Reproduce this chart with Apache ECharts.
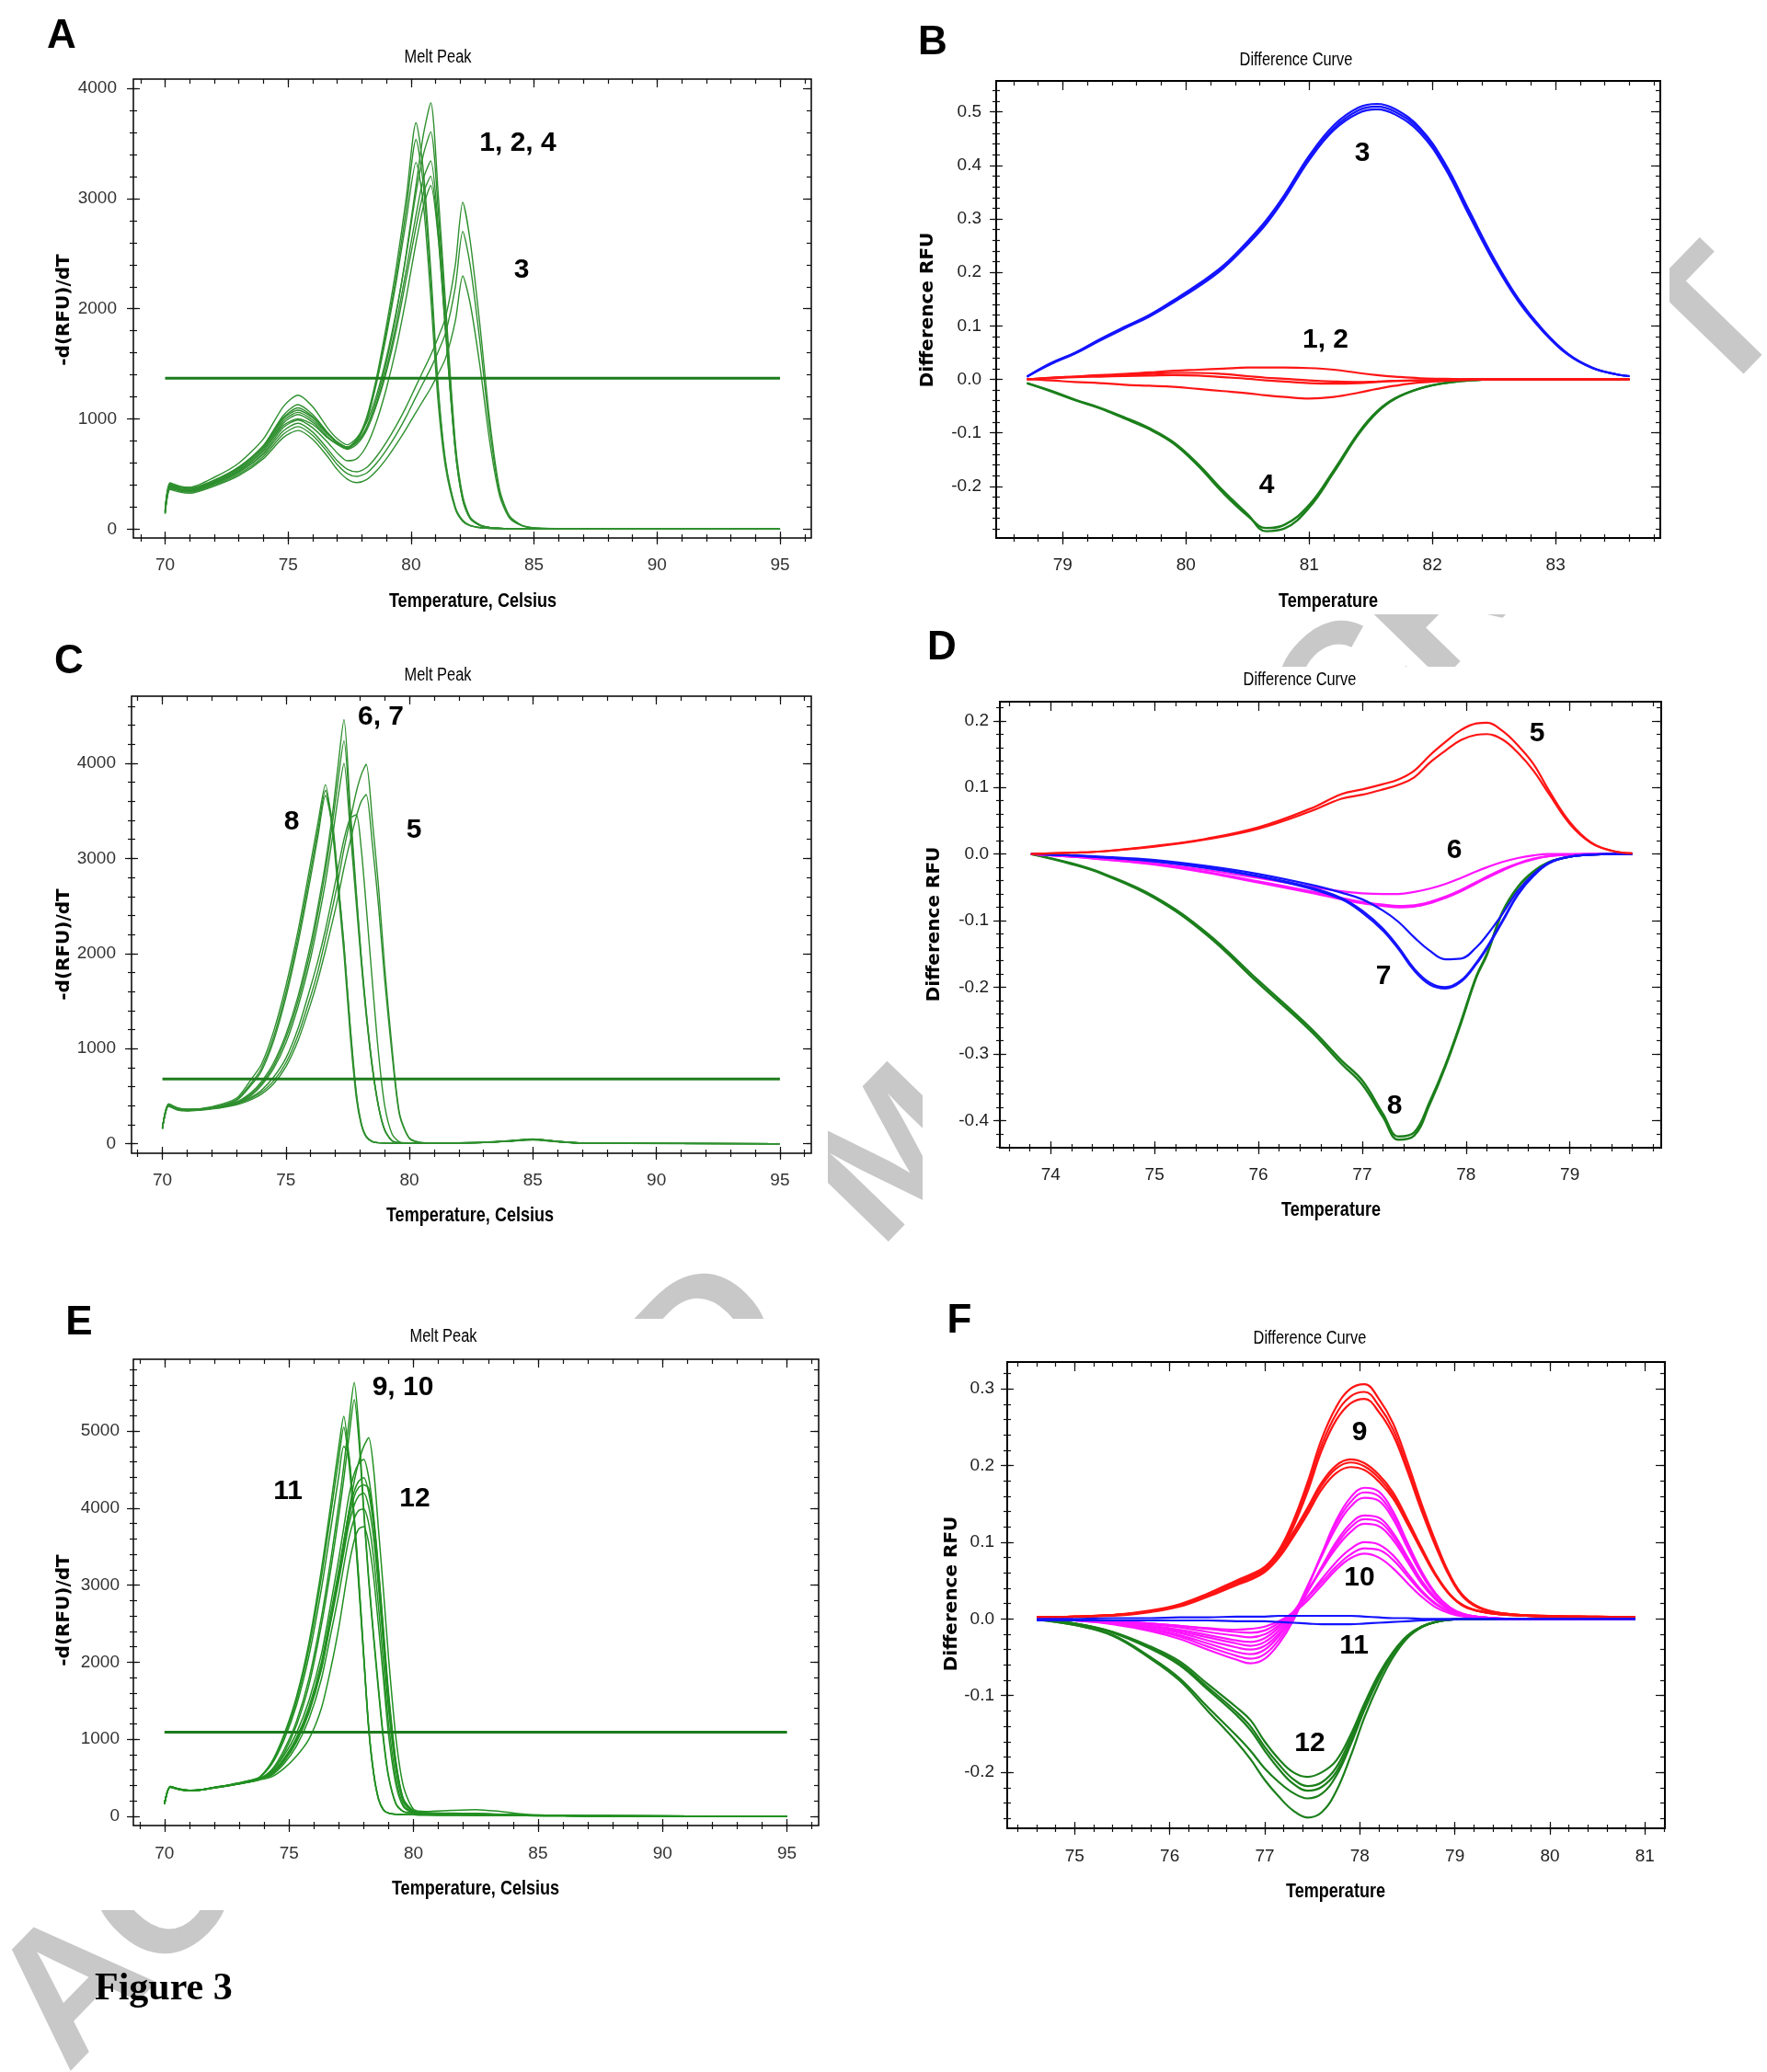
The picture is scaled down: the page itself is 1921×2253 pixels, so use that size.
<!DOCTYPE html>
<html>
<head>
<meta charset="utf-8">
<title>Figure 3</title>
<script src="https://cdn.jsdelivr.net/npm/echarts@6.0.0/dist/echarts.min.js"></script>
<style>
  html, body { margin: 0; padding: 0; background: #fff; }
  #fig { width: 1921px; height: 2253px; }
</style>
</head>
<body>
<div id="fig"></div>
<script>
// ---------- A : melt peak ----------
const tempA = [70.0, 70.2, 70.6, 71.0, 72.0, 73.0, 74.0, 74.8, 75.4, 76.0, 76.6, 77.0, 77.4, 77.8, 78.2, 78.6, 79.0, 79.4, 79.8, 80.2, 80.5, 80.8, 81.1, 81.4, 81.8, 82.1, 82.4, 82.8, 83.2, 83.6, 84.0, 84.5, 85.0, 86.0, 88.0, 95.0];
const peakA1 = [160, 400, 375, 365, 440, 560, 760, 1030, 1130, 1040, 880, 790, 745, 820, 1020, 1380, 1850, 2380, 3000, 3689, 3250, 2350, 1300, 620, 200, 80, 35, 15, 8, 5, 3, 2, 2, 1, 0, 0];
const peakA2 = [170, 390, 360, 355, 430, 545, 730, 980, 1060, 990, 860, 785, 740, 790, 930, 1180, 1520, 1960, 2500, 3120, 3580, 3870, 3050, 2050, 780, 300, 110, 40, 15, 8, 5, 3, 2, 1, 0, 0];
const peakA3 = [150, 410, 380, 370, 445, 565, 750, 1010, 1100, 1020, 870, 780, 735, 810, 1000, 1350, 1800, 2300, 2900, 3536, 3120, 2250, 1250, 600, 190, 75, 30, 12, 6, 4, 3, 2, 1, 1, 0, 0];
const peakA4 = [180, 420, 390, 380, 470, 600, 820, 1110, 1215, 1110, 920, 820, 765, 830, 970, 1220, 1560, 1980, 2480, 3050, 3400, 3606, 2900, 1950, 750, 280, 100, 35, 14, 8, 5, 3, 2, 1, 0, 0];
const peakA5 = [150, 380, 355, 350, 420, 530, 710, 960, 1040, 970, 840, 770, 730, 800, 990, 1330, 1760, 2250, 2800, 3328, 2950, 2100, 1150, 560, 180, 70, 30, 12, 6, 4, 3, 2, 1, 1, 0, 0];
const peakA6 = [165, 395, 365, 355, 425, 535, 715, 940, 1000, 950, 830, 770, 725, 770, 900, 1140, 1460, 1870, 2350, 2850, 3180, 3342, 2750, 1850, 720, 270, 100, 35, 14, 8, 5, 3, 2, 1, 0, 0];
const peakA7 = [155, 405, 375, 365, 440, 555, 745, 1000, 1080, 1010, 870, 790, 745, 790, 910, 1130, 1430, 1810, 2270, 2740, 3050, 3203, 2680, 1800, 700, 260, 95, 33, 13, 7, 5, 3, 2, 1, 0, 0];
const peakA8 = [160, 385, 355, 345, 415, 520, 690, 920, 990, 920, 790, 690, 620, 640, 760, 980, 1280, 1650, 2100, 2600, 2930, 3119, 2650, 1800, 720, 270, 100, 35, 14, 8, 5, 3, 2, 1, 0, 0];
const peakA9 = [150, 380, 350, 340, 410, 515, 680, 890, 960, 880, 730, 620, 545, 520, 560, 660, 790, 940, 1110, 1300, 1440, 1580, 1740, 1920, 2400, 2966, 2620, 1850, 980, 360, 120, 35, 12, 5, 2, 0];
const peakA10 = [140, 370, 345, 335, 400, 500, 660, 860, 930, 850, 700, 585, 505, 478, 510, 600, 720, 860, 1020, 1200, 1330, 1460, 1610, 1780, 2200, 2702, 2400, 1700, 900, 330, 110, 32, 11, 5, 2, 0];
const peakA11 = [140, 360, 335, 325, 390, 485, 640, 830, 895, 815, 660, 540, 455, 422, 450, 530, 640, 770, 910, 1060, 1170, 1280, 1410, 1550, 1890, 2299, 2050, 1480, 790, 300, 100, 30, 10, 4, 2, 0];
const thresholdA = 1370;

// ---------- C : melt peak ----------
const tempC = [70.0, 70.25, 70.6, 71.0, 72.0, 73.0, 73.6, 74.0, 74.5, 75.0, 75.5, 76.0, 76.3, 76.6, 76.9, 77.1, 77.35, 77.6, 77.85, 78.05, 78.25, 78.5, 78.75, 79.0, 79.3, 79.6, 80.0, 80.5, 81.5, 83.0, 84.0, 85.0, 86.0, 87.0, 95.0];
const peakC8a = [160, 410, 370, 360, 390, 480, 680, 830, 1180, 1660, 2250, 2950, 3380, 3776, 3250, 2700, 2000, 1150, 480, 200, 70, 20, 10, 6, 5, 5, 5, 5, 8, 15, 30, 45, 25, 8, 0];
const peakC8b = [170, 400, 365, 355, 380, 465, 640, 790, 1120, 1590, 2180, 2870, 3300, 3715, 3350, 2800, 2100, 1250, 540, 220, 80, 25, 10, 6, 5, 5, 5, 5, 8, 15, 28, 42, 22, 7, 0];
const peakC8c = [155, 395, 360, 350, 375, 455, 620, 760, 1080, 1540, 2120, 2800, 3240, 3662, 3300, 2780, 2080, 1230, 520, 210, 75, 22, 10, 6, 5, 5, 5, 5, 8, 14, 26, 40, 20, 6, 0];
const peakC67a = [170, 420, 380, 365, 380, 440, 540, 650, 850, 1150, 1560, 2100, 2500, 2950, 3500, 3950, 4459, 3550, 2650, 1970, 1400, 820, 400, 150, 30, 10, 5, 5, 8, 15, 30, 50, 25, 8, 0];
const peakC67b = [165, 415, 375, 360, 375, 430, 525, 630, 820, 1110, 1510, 2030, 2430, 2870, 3400, 3800, 4238, 3450, 2600, 1950, 1380, 800, 390, 145, 30, 10, 5, 5, 8, 14, 28, 48, 24, 8, 0];
const peakC67c = [160, 405, 370, 355, 370, 425, 510, 610, 790, 1060, 1450, 1950, 2330, 2750, 3250, 3620, 4000, 3300, 2520, 1900, 1350, 790, 385, 140, 30, 10, 5, 5, 8, 14, 27, 46, 23, 7, 0];
const peakC5a = [165, 400, 360, 350, 370, 420, 480, 540, 660, 850, 1150, 1550, 1820, 2150, 2500, 2750, 3100, 3400, 3700, 3880, 3991, 3400, 2700, 1850, 1000, 320, 60, 12, 6, 12, 28, 48, 24, 8, 0];
const peakC5b = [160, 395, 355, 345, 365, 410, 465, 520, 630, 810, 1090, 1470, 1730, 2030, 2350, 2580, 2900, 3180, 3440, 3600, 3672, 3150, 2500, 1720, 930, 300, 55, 12, 6, 12, 27, 46, 23, 7, 0];
const peakC5c = [160, 400, 360, 350, 370, 425, 490, 560, 700, 900, 1220, 1650, 1930, 2250, 2620, 2880, 3200, 3420, 3459, 3100, 2500, 1700, 950, 400, 100, 20, 8, 6, 6, 12, 27, 45, 22, 7, 0];
const thresholdC = 681;

// ---------- E : melt peak ----------
const tempE = [70.0, 70.23, 70.6, 71.0, 71.4, 72.0, 72.6, 73.2, 73.8, 74.3, 74.8, 75.3, 75.8, 76.3, 76.7, 77.0, 77.2, 77.4, 77.62, 77.8, 78.0, 78.2, 78.4, 78.6, 78.8, 79.0, 79.3, 79.6, 80.0, 80.5, 81.5, 82.5, 83.5, 84.5, 86.0, 88.0, 95.0];
const peakE1 = [157, 383, 350, 335, 340, 370, 400, 435, 480, 600, 860, 1230, 1780, 2580, 3380, 4050, 4550, 5100, 5630, 5050, 4000, 3100, 2350, 1650, 1000, 520, 160, 60, 40, 30, 25, 20, 15, 10, 5, 2, 0];
const peakE2 = [160, 375, 345, 330, 338, 365, 395, 430, 470, 580, 820, 1180, 1700, 2480, 3250, 3900, 4380, 4900, 5411, 4900, 3950, 3050, 2300, 1600, 960, 500, 150, 55, 38, 28, 24, 20, 14, 9, 5, 2, 0];
const peakE3 = [155, 380, 348, 332, 338, 372, 405, 445, 500, 700, 1060, 1550, 2250, 3200, 4100, 4800, 5192, 4700, 3900, 3100, 2100, 1150, 560, 220, 80, 40, 25, 20, 18, 15, 12, 10, 8, 5, 3, 1, 0];
const peakE4 = [158, 385, 352, 335, 340, 375, 408, 448, 505, 690, 1030, 1500, 2180, 3100, 3980, 4650, 5053, 4600, 3800, 3000, 2050, 1120, 540, 210, 75, 38, 24, 20, 17, 14, 12, 10, 8, 5, 3, 1, 0];
const peakE5 = [160, 378, 345, 330, 336, 368, 400, 440, 495, 670, 990, 1440, 2080, 2950, 3780, 4420, 4800, 4700, 3850, 3050, 2100, 1160, 560, 220, 80, 40, 25, 20, 17, 14, 12, 10, 8, 5, 3, 1, 0];
const peakE6 = [158, 380, 350, 333, 340, 372, 402, 438, 485, 560, 740, 1000, 1380, 1950, 2600, 3150, 3550, 3950, 4350, 4600, 4800, 4914, 4500, 3700, 2900, 2050, 1000, 380, 90, 60, 75, 85, 60, 25, 8, 2, 0];
const peakE7 = [160, 385, 352, 336, 342, 374, 404, 440, 490, 580, 790, 1080, 1500, 2100, 2800, 3350, 3750, 4150, 4450, 4580, 4635, 4400, 3900, 3200, 2400, 1600, 700, 220, 70, 45, 40, 35, 25, 15, 6, 2, 0];
const peakE8 = [156, 378, 348, 332, 338, 370, 400, 436, 482, 560, 750, 1020, 1420, 2000, 2680, 3200, 3580, 3950, 4220, 4350, 4396, 4200, 3750, 3050, 2250, 1450, 620, 190, 60, 40, 35, 30, 22, 14, 6, 2, 0];
const peakE9 = [155, 376, 346, 330, 336, 368, 398, 432, 478, 545, 710, 960, 1340, 1900, 2560, 3060, 3420, 3780, 4040, 4160, 4196, 4020, 3600, 2950, 2180, 1400, 600, 180, 55, 38, 32, 28, 20, 12, 5, 2, 0];
const peakE10 = [158, 380, 350, 334, 340, 370, 400, 434, 476, 530, 680, 910, 1260, 1780, 2400, 2880, 3250, 3600, 3860, 3970, 3990, 3800, 3350, 2700, 1950, 1200, 480, 140, 45, 32, 28, 25, 18, 11, 5, 2, 0];
const peakE11 = [157, 378, 348, 332, 338, 368, 398, 430, 470, 510, 620, 780, 1000, 1400, 1950, 2450, 2850, 3250, 3580, 3730, 3759, 3550, 3100, 2450, 1750, 1050, 400, 120, 40, 30, 26, 22, 16, 10, 5, 2, 0];
const peakE12 = [159, 382, 351, 334, 341, 372, 402, 436, 480, 550, 720, 980, 1360, 1920, 2580, 3100, 3480, 3860, 4150, 4270, 4300, 4260, 3850, 3150, 2350, 1550, 680, 210, 65, 42, 36, 30, 22, 13, 6, 2, 0];
const thresholdE = 1091;

// ---------- B : difference curve ----------
const tempB = [78.71, 78.9, 79.1, 79.3, 79.5, 79.7, 79.9, 80.1, 80.3, 80.5, 80.65, 80.8, 81.0, 81.2, 81.4, 81.55, 81.7, 81.9, 82.1, 82.3, 82.5, 82.7, 82.9, 83.1, 83.3, 83.5, 83.6];
const diffB3a = [0.005, 0.03, 0.05, 0.075, 0.098, 0.12, 0.148, 0.178, 0.212, 0.258, 0.297, 0.345, 0.418, 0.475, 0.508, 0.515, 0.505, 0.47, 0.405, 0.315, 0.226, 0.15, 0.092, 0.048, 0.022, 0.009, 0.006];
const diffB3b = [0.005, 0.029, 0.049, 0.074, 0.097, 0.119, 0.146, 0.176, 0.21, 0.255, 0.294, 0.342, 0.414, 0.47, 0.503, 0.51, 0.5, 0.466, 0.4, 0.31, 0.222, 0.147, 0.09, 0.047, 0.021, 0.009, 0.006];
const diffB3c = [0.005, 0.028, 0.048, 0.072, 0.095, 0.117, 0.144, 0.173, 0.207, 0.252, 0.29, 0.338, 0.41, 0.466, 0.498, 0.505, 0.495, 0.461, 0.396, 0.306, 0.219, 0.145, 0.089, 0.046, 0.021, 0.009, 0.006];
const diffB12a = [0, 0.003, 0.005, 0.008, 0.01, 0.013, 0.016, 0.018, 0.02, 0.022, 0.022, 0.022, 0.021, 0.018, 0.012, 0.008, 0.005, 0.002, 0.001, 0, 0, 0, 0, 0, 0, 0, 0];
const diffB12b = [0, 0.003, 0.005, 0.007, 0.008, 0.01, 0.012, 0.012, 0.01, 0.006, 0.003, 0.001, -0.002, -0.004, -0.005, -0.004, -0.003, -0.002, -0.001, 0, 0, 0, 0, 0, 0, 0, 0];
const diffB12c = [0, 0.002, 0.004, 0.005, 0.006, 0.007, 0.008, 0.007, 0.004, 0.001, -0.002, -0.004, -0.007, -0.008, -0.007, -0.005, -0.003, -0.002, -0.001, 0, 0, 0, 0, 0, 0, 0, 0];
const diffB12d = [0, -0.002, -0.005, -0.007, -0.01, -0.012, -0.014, -0.018, -0.022, -0.026, -0.03, -0.033, -0.036, -0.033, -0.025, -0.018, -0.012, -0.006, -0.003, -0.001, 0, 0, 0, 0, 0, 0, 0];
const diffB4a = [-0.007, -0.022, -0.039, -0.054, -0.073, -0.093, -0.12, -0.162, -0.212, -0.255, -0.278, -0.272, -0.235, -0.17, -0.1, -0.06, -0.035, -0.017, -0.007, -0.002, 0, 0, 0, 0, 0, 0, 0];
const diffB4b = [-0.007, -0.021, -0.038, -0.053, -0.071, -0.091, -0.118, -0.159, -0.208, -0.252, -0.284, -0.279, -0.24, -0.174, -0.103, -0.062, -0.036, -0.017, -0.007, -0.002, 0, 0, 0, 0, 0, 0, 0];

// ---------- D : difference curve ----------
const tempD = [73.81, 74.2, 74.5, 75.0, 75.5, 76.0, 76.5, 76.8, 77.0, 77.2, 77.35, 77.5, 77.65, 77.8, 77.95, 78.1, 78.2, 78.35, 78.5, 78.65, 78.8, 79.0, 79.2, 79.4, 79.6];
const diffD5a = [0, 0.002, 0.004, 0.012, 0.023, 0.04, 0.068, 0.09, 0.097, 0.105, 0.112, 0.125, 0.148, 0.168, 0.186, 0.196, 0.197, 0.185, 0.163, 0.135, 0.095, 0.048, 0.018, 0.005, 0.001];
const diffD5b = [0, 0.002, 0.004, 0.011, 0.022, 0.038, 0.064, 0.083, 0.089, 0.097, 0.104, 0.115, 0.137, 0.155, 0.171, 0.179, 0.18, 0.172, 0.152, 0.125, 0.09, 0.045, 0.017, 0.005, 0.001];
const diffD6a = [0, -0.004, -0.007, -0.014, -0.024, -0.036, -0.049, -0.056, -0.059, -0.06, -0.06, -0.057, -0.052, -0.045, -0.036, -0.026, -0.02, -0.012, -0.006, -0.002, 0, 0, 0, 0, 0];
const diffD6b = [0, -0.004, -0.008, -0.016, -0.028, -0.043, -0.058, -0.068, -0.074, -0.078, -0.08, -0.079, -0.074, -0.066, -0.056, -0.044, -0.036, -0.025, -0.015, -0.008, -0.003, -0.001, 0, 0, 0];
const diffD6c = [0, -0.004, -0.008, -0.015, -0.027, -0.041, -0.056, -0.066, -0.072, -0.076, -0.078, -0.077, -0.072, -0.064, -0.054, -0.042, -0.034, -0.023, -0.014, -0.007, -0.003, -0.001, 0, 0, 0];
const diffD7a = [0, -0.002, -0.004, -0.009, -0.018, -0.03, -0.046, -0.058, -0.068, -0.085, -0.102, -0.125, -0.145, -0.158, -0.157, -0.14, -0.122, -0.09, -0.055, -0.03, -0.013, -0.004, -0.001, 0, 0];
const diffD7b = [0, -0.002, -0.005, -0.011, -0.02, -0.033, -0.05, -0.066, -0.085, -0.112, -0.14, -0.172, -0.193, -0.2, -0.19, -0.163, -0.14, -0.1, -0.06, -0.032, -0.013, -0.004, -0.001, 0, 0];
const diffD7c = [0, -0.002, -0.005, -0.011, -0.021, -0.034, -0.052, -0.068, -0.088, -0.115, -0.143, -0.175, -0.196, -0.202, -0.192, -0.165, -0.142, -0.102, -0.061, -0.033, -0.014, -0.004, -0.001, 0, 0];
const diffD8a = [0, -0.015, -0.03, -0.066, -0.121, -0.194, -0.265, -0.315, -0.346, -0.395, -0.429, -0.423, -0.376, -0.32, -0.255, -0.185, -0.152, -0.088, -0.05, -0.027, -0.012, -0.004, -0.001, 0, 0];
const diffD8b = [0, -0.014, -0.029, -0.064, -0.118, -0.19, -0.261, -0.31, -0.34, -0.39, -0.424, -0.418, -0.372, -0.317, -0.252, -0.183, -0.15, -0.087, -0.049, -0.026, -0.012, -0.004, -0.001, 0, 0];

// ---------- F : difference curve ----------
const tempF = [74.6, 75.0, 75.4, 75.8, 76.1, 76.4, 76.7, 76.85, 77.0, 77.15, 77.3, 77.45, 77.6, 77.75, 77.9, 78.05, 78.2, 78.35, 78.5, 78.65, 78.8, 78.95, 79.1, 79.3, 79.6, 80.0, 80.5, 80.9];
const diffF9a = [0.002, 0.003, 0.005, 0.011, 0.019, 0.033, 0.05, 0.058, 0.068, 0.09, 0.128, 0.178, 0.235, 0.276, 0.3, 0.306, 0.287, 0.255, 0.205, 0.15, 0.1, 0.057, 0.029, 0.013, 0.006, 0.004, 0.003, 0.002];
const diffF9b = [0.002, 0.003, 0.005, 0.01, 0.018, 0.031, 0.048, 0.056, 0.066, 0.087, 0.124, 0.172, 0.227, 0.267, 0.29, 0.296, 0.278, 0.247, 0.198, 0.145, 0.097, 0.055, 0.028, 0.013, 0.006, 0.004, 0.003, 0.002];
const diffF9c = [0.002, 0.003, 0.005, 0.01, 0.018, 0.03, 0.046, 0.054, 0.064, 0.084, 0.12, 0.166, 0.22, 0.259, 0.281, 0.287, 0.27, 0.24, 0.193, 0.141, 0.094, 0.054, 0.027, 0.012, 0.006, 0.004, 0.003, 0.002];
const diffF9d = [0.002, 0.003, 0.005, 0.01, 0.018, 0.031, 0.047, 0.055, 0.065, 0.085, 0.113, 0.145, 0.178, 0.2, 0.208, 0.203, 0.188, 0.165, 0.13, 0.093, 0.058, 0.032, 0.017, 0.009, 0.005, 0.003, 0.002, 0.002];
const diffF9e = [0.002, 0.003, 0.005, 0.01, 0.017, 0.03, 0.045, 0.053, 0.063, 0.083, 0.11, 0.141, 0.174, 0.196, 0.204, 0.199, 0.184, 0.161, 0.127, 0.091, 0.057, 0.031, 0.017, 0.009, 0.005, 0.003, 0.002, 0.002];
const diffF9f = [0.002, 0.003, 0.004, 0.009, 0.016, 0.029, 0.044, 0.051, 0.061, 0.08, 0.107, 0.137, 0.169, 0.19, 0.198, 0.194, 0.179, 0.157, 0.124, 0.089, 0.056, 0.031, 0.016, 0.009, 0.005, 0.003, 0.002, 0.002];
const diffF10a = [0, -0.002, -0.007, -0.016, -0.026, -0.04, -0.053, -0.058, -0.052, -0.032, -0.002, 0.04, 0.085, 0.128, 0.158, 0.171, 0.166, 0.14, 0.1, 0.062, 0.033, 0.015, 0.006, 0.002, 0, 0, 0, 0];
const diffF10b = [0, -0.002, -0.006, -0.014, -0.023, -0.036, -0.048, -0.052, -0.046, -0.027, 0.002, 0.042, 0.084, 0.124, 0.152, 0.165, 0.16, 0.135, 0.097, 0.06, 0.032, 0.014, 0.006, 0.002, 0, 0, 0, 0];
const diffF10c = [0, -0.002, -0.006, -0.013, -0.021, -0.032, -0.043, -0.046, -0.04, -0.022, 0.005, 0.043, 0.082, 0.119, 0.146, 0.158, 0.154, 0.13, 0.093, 0.058, 0.031, 0.014, 0.006, 0.002, 0, 0, 0, 0];
const diffF10d = [0, -0.001, -0.005, -0.011, -0.018, -0.028, -0.037, -0.04, -0.035, -0.019, 0.004, 0.035, 0.068, 0.1, 0.124, 0.135, 0.132, 0.112, 0.081, 0.05, 0.027, 0.012, 0.005, 0.002, 0, 0, 0, 0];
const diffF10e = [0, -0.001, -0.004, -0.01, -0.016, -0.024, -0.032, -0.035, -0.03, -0.015, 0.007, 0.036, 0.067, 0.096, 0.119, 0.13, 0.127, 0.108, 0.078, 0.048, 0.026, 0.012, 0.005, 0.002, 0, 0, 0, 0];
const diffF10f = [0, -0.001, -0.004, -0.009, -0.014, -0.021, -0.028, -0.03, -0.025, -0.011, 0.009, 0.036, 0.065, 0.092, 0.113, 0.124, 0.121, 0.103, 0.075, 0.046, 0.025, 0.011, 0.005, 0.002, 0, 0, 0, 0];
const diffF10g = [0, -0.001, -0.003, -0.007, -0.011, -0.017, -0.022, -0.024, -0.02, -0.008, 0.008, 0.029, 0.052, 0.074, 0.091, 0.1, 0.097, 0.083, 0.06, 0.037, 0.02, 0.009, 0.004, 0.001, 0, 0, 0, 0];
const diffF10h = [0, -0.001, -0.003, -0.006, -0.009, -0.013, -0.017, -0.018, -0.015, -0.005, 0.009, 0.028, 0.048, 0.068, 0.084, 0.092, 0.09, 0.077, 0.056, 0.035, 0.019, 0.009, 0.004, 0.001, 0, 0, 0, 0];
const diffF10i = [0, -0.001, -0.003, -0.006, -0.009, -0.012, -0.014, -0.013, -0.01, -0.003, 0.008, 0.024, 0.044, 0.064, 0.079, 0.085, 0.08, 0.066, 0.047, 0.029, 0.015, 0.007, 0.003, 0.001, 0, 0, 0, 0];
const diffF11a = [0, 0, 0.001, 0.001, 0.002, 0.002, 0.003, 0.003, 0.003, 0.004, 0.004, 0.004, 0.004, 0.004, 0.004, 0.003, 0.002, 0.001, 0.001, 0, 0, 0, 0, 0, 0, 0, 0, 0];
const diffF11b = [-0.002, -0.002, -0.002, -0.002, -0.002, -0.002, -0.003, -0.003, -0.003, -0.004, -0.005, -0.006, -0.007, -0.007, -0.007, -0.006, -0.005, -0.004, -0.003, -0.002, -0.001, -0.001, 0, 0, 0, 0, 0, 0];
const diffF12a = [-0.001, -0.008, -0.022, -0.052, -0.08, -0.12, -0.16, -0.183, -0.21, -0.232, -0.25, -0.259, -0.252, -0.225, -0.18, -0.128, -0.085, -0.05, -0.025, -0.011, -0.004, -0.001, 0, 0, 0, 0, 0, 0];
const diffF12b = [-0.001, -0.008, -0.021, -0.05, -0.077, -0.115, -0.152, -0.172, -0.195, -0.213, -0.227, -0.234, -0.228, -0.205, -0.165, -0.118, -0.078, -0.046, -0.023, -0.01, -0.004, -0.001, 0, 0, 0, 0, 0, 0];
const diffF12c = [-0.001, -0.006, -0.018, -0.039, -0.06, -0.092, -0.125, -0.145, -0.172, -0.196, -0.215, -0.224, -0.219, -0.2, -0.162, -0.117, -0.077, -0.045, -0.023, -0.01, -0.004, -0.001, 0, 0, 0, 0, 0, 0];
const diffF12d = [-0.001, -0.006, -0.017, -0.038, -0.058, -0.089, -0.121, -0.14, -0.167, -0.19, -0.209, -0.218, -0.213, -0.194, -0.157, -0.114, -0.075, -0.044, -0.022, -0.01, -0.004, -0.001, 0, 0, 0, 0, 0, 0];
const diffF12e = [-0.001, -0.006, -0.017, -0.036, -0.055, -0.085, -0.115, -0.132, -0.16, -0.183, -0.2, -0.206, -0.2, -0.185, -0.152, -0.11, -0.072, -0.043, -0.022, -0.01, -0.004, -0.001, 0, 0, 0, 0, 0, 0];

// ---------- tick labels ----------
const xMajorMelt = [70, 75, 80, 85, 90, 95];
const yMajorA = [0, 1000, 2000, 3000, 4000];
const yMajorC = [0, 1000, 2000, 3000, 4000];
const yMajorE = [0, 1000, 2000, 3000, 4000, 5000];
const xMajorB = [79, 80, 81, 82, 83];
const yMajorB = [-0.2, -0.1, 0, 0.1, 0.2, 0.3, 0.4, 0.5];
const xMajorD = [74, 75, 76, 77, 78, 79];
const yMajorD = [-0.4, -0.3, -0.2, -0.1, 0, 0.1, 0.2];
const xMajorF = [75, 76, 77, 78, 79, 80, 81];
const yMajorF = [-0.2, -0.1, 0, 0.1, 0.2, 0.3];

// minor tick positions
function steps(from, to, step) {
  const out = [];
  const n = Math.round((to - from) / step);
  for (let i = 0; i <= n; i++) out.push(Math.round((from + i * step) * 1000) / 1000);
  return out;
}

const sans = '"Liberation Sans", Arial, sans-serif';
const meltGreen = '#2e8f2e';
const lineGreen = '#1b7f1b';

const option = {
  animation: false,
  backgroundColor: '#fff',
  grid: [], xAxis: [], yAxis: [], series: [],
  graphic: { elements: [] }
};

function axisSet(list, gi, a, pos, p) {
  const specs = [
    [pos[0], a.major, false, p.tick[0], true],
    [pos[0], a.major, true, p.tick[0], false],
    [pos[0], a.minor, false, p.tick[1], false],
    [pos[0], a.minor, true, p.tick[1], false],
    [pos[1], a.major, true, p.tick[2], false],
    [pos[1], a.minor, true, p.tick[3], false]
  ];
  specs.forEach(([position, vals, inside, len, labels]) => {
    list.push({
      type: 'value', gridIndex: gi, position, min: a.min, max: a.max,
      axisLine: { show: false, onZero: false },
      splitLine: { show: false },
      axisTick: { show: true, customValues: vals, inside, length: len, lineStyle: { color: '#111', width: 1.2 } },
      axisLabel: labels ? {
        show: true, customValues: a.major, formatter: a.fmt, margin: a.margin,
        color: p.labelColor, fontFamily: sans, fontSize: p.labelSize
      } : { show: false }
    });
  });
}

function addPanel(p) {
  const gi = option.grid.length;
  option.grid.push({
    left: p.box[0], top: p.box[1], width: p.box[2], height: p.box[3],
    show: true, borderColor: '#000', borderWidth: p.frame, backgroundColor: 'transparent',
    containLabel: false, outerBoundsMode: 'none'
  });
  const ax = { xi: option.xAxis.length, yi: option.yAxis.length };
  axisSet(option.xAxis, gi, p.x, ['bottom', 'top'], p);
  axisSet(option.yAxis, gi, p.y, ['left', 'right'], p);
  return ax;
}

function curve(ax, temps, vals, color, width, smooth) {
  option.series.push({
    type: 'line', xAxisIndex: ax.xi, yAxisIndex: ax.yi,
    data: temps.map((t, i) => [t, vals[i]]),
    symbol: 'none', showSymbol: false, smooth: smooth, silent: true,
    lineStyle: { color, width }
  });
}

function threshold(ax, level) {
  option.series.push({
    type: 'line', xAxisIndex: ax.xi, yAxisIndex: ax.yi,
    data: [[70, level], [95, level]], symbol: 'none', silent: true,
    lineStyle: { color: '#1c7c1c', width: 3 }, z: 3
  });
}

const g = option.graphic.elements;
function text(x, y, s, font, rotation, squeeze) {
  g.push({
    type: 'text', x, y, rotation: rotation || 0, scaleX: squeeze || 1, z: 50,
    style: { text: s, font, fill: '#000', textAlign: 'center', textVerticalAlign: 'middle', align: 'center', verticalAlign: 'middle' }
  });
}

// ---------- watermark (behind the panels) ----------
const watermark = 'ACCEPTED MANUSCRIPT';
for (let i = 0; i < watermark.length; i++) {
  if (watermark[i] === ' ') continue;
  g.push({
    type: 'text', x: 84 + 99 * i, y: 2165 - 100.4 * i, rotation: 0.8, z: -20,
    style: { text: watermark[i], font: 'bold 200px ' + sans, fill: '#c8c8c8', textAlign: 'center', textVerticalAlign: 'middle', align: 'center', verticalAlign: 'middle' }
  });
}
[[55, 0, 850, 690], [985, 15, 830, 653], [50, 690, 850, 682], [1003, 725, 812, 660], [62, 1434, 843, 643], [985, 1420, 830, 675]]
  .forEach(r => g.push({ type: 'rect', z: -10, shape: { x: r[0], y: r[1], width: r[2], height: r[3] }, style: { fill: '#fff' } }));

const fmtInt = v => String(v);
const fmt1 = v => v.toFixed(1);
const meltTicks = [7, 4, 9, 5];
const diffTicks = [7, 4, 10, 5];

// ---------- A ----------
const axA = addPanel({
  box: [145, 86, 737, 499], frame: 1.5, labelColor: '#333', labelSize: 19, tick: meltTicks,
  x: { min: 68.71, max: 96.27, major: xMajorMelt, minor: steps(69, 96, 1), fmt: fmtInt, margin: 20 },
  y: { min: -81, max: 4085, major: yMajorA, minor: steps(0, 4000, 200), fmt: fmtInt, margin: 18 }
});
[peakA1, peakA2, peakA3, peakA4, peakA5, peakA6, peakA7, peakA8, peakA9, peakA10, peakA11]
  .forEach(v => curve(axA, tempA, v, meltGreen, 1.4, 0.25));
threshold(axA, thresholdA);

// ---------- B ----------
const axB = addPanel({
  box: [1083, 88, 722, 497], frame: 2, labelColor: '#1e1e1e', labelSize: 19, tick: diffTicks,
  x: { min: 78.46, max: 83.85, major: xMajorB, minor: steps(78.6, 83.8, 0.2), fmt: fmtInt, margin: 20 },
  y: { min: -0.2967, max: 0.558, major: yMajorB, minor: steps(-0.28, 0.54, 0.02), fmt: fmt1, margin: 16 }
});
[diffB4a, diffB4b].forEach(v => curve(axB, tempB, v, lineGreen, 2.4, 0.4));
[diffB3a, diffB3b, diffB3c].forEach(v => curve(axB, tempB, v, '#1414ff', 2.2, 0.4));
[diffB12a, diffB12b, diffB12c, diffB12d].forEach(v => curve(axB, tempB, v, '#ff1414', 2.2, 0.4));

// ---------- C ----------
const axC = addPanel({
  box: [143, 757, 739, 497], frame: 1.5, labelColor: '#333', labelSize: 19, tick: meltTicks,
  x: { min: 68.75, max: 96.27, major: xMajorMelt, minor: steps(69, 96, 1), fmt: fmtInt, margin: 20 },
  y: { min: -100, max: 4706, major: yMajorC, minor: steps(0, 4600, 200), fmt: fmtInt, margin: 17 }
});
[peakC8a, peakC8b, peakC8c, peakC67a, peakC67b, peakC67c, peakC5a, peakC5b, peakC5c]
  .forEach(v => curve(axC, tempC, v, meltGreen, 1.4, 0.25));
threshold(axC, thresholdC);

// ---------- D ----------
const axD = addPanel({
  box: [1087, 763, 719, 485], frame: 2, labelColor: '#1e1e1e', labelSize: 19, tick: diffTicks,
  x: { min: 73.51, max: 79.88, major: xMajorD, minor: steps(73.6, 79.8, 0.2), fmt: fmtInt, margin: 20 },
  y: { min: -0.441, max: 0.2287, major: yMajorD, minor: steps(-0.44, 0.22, 0.02), fmt: fmt1, margin: 12 }
});
[diffD8a, diffD8b].forEach(v => curve(axD, tempD, v, lineGreen, 2.4, 0.4));
[diffD6a, diffD6b, diffD6c].forEach(v => curve(axD, tempD, v, '#ff14ff', 2.2, 0.4));
[diffD7a, diffD7b, diffD7c].forEach(v => curve(axD, tempD, v, '#1414ff', 2.2, 0.4));
[diffD5a, diffD5b].forEach(v => curve(axD, tempD, v, '#ff1414', 2.2, 0.4));

// ---------- E ----------
const axE = addPanel({
  box: [145, 1478, 745, 507], frame: 1.5, labelColor: '#333', labelSize: 19, tick: meltTicks,
  x: { min: 68.75, max: 96.27, major: xMajorMelt, minor: steps(69, 96, 1), fmt: fmtInt, margin: 21 },
  y: { min: -122, max: 5933, major: yMajorE, minor: steps(0, 5800, 200), fmt: fmtInt, margin: 15 }
});
[peakE1, peakE2, peakE3, peakE4, peakE5, peakE6, peakE7, peakE8, peakE9, peakE10, peakE11, peakE12]
  .forEach(v => curve(axE, tempE, v, '#229022', 1.5, 0.25));
threshold(axE, thresholdE);

// ---------- F ----------
const axF = addPanel({
  box: [1095, 1481, 715, 507], frame: 2, labelColor: '#1e1e1e', labelSize: 19, tick: diffTicks,
  x: { min: 74.29, max: 81.21, major: xMajorF, minor: steps(74.4, 81.2, 0.2), fmt: fmtInt, margin: 21 },
  y: { min: -0.273, max: 0.335, major: yMajorF, minor: steps(-0.26, 0.32, 0.02), fmt: fmt1, margin: 14 }
});
[diffF12a, diffF12b, diffF12c, diffF12d, diffF12e].forEach(v => curve(axF, tempF, v, lineGreen, 2.2, 0.4));
[diffF10a, diffF10b, diffF10c, diffF10d, diffF10e, diffF10f, diffF10g, diffF10h, diffF10i].forEach(v => curve(axF, tempF, v, '#ff14ff', 2.2, 0.4));
[diffF9a, diffF9b, diffF9c, diffF9d, diffF9e, diffF9f].forEach(v => curve(axF, tempF, v, '#ff1414', 2.2, 0.4));
[diffF11a, diffF11b].forEach(v => curve(axF, tempF, v, '#1414ff', 2.2, 0.4));

// ---------- text ----------
const letterFont = 'bold 44px ' + sans;
const markFont = 'bold 30px ' + sans;
const titleFont = '20px ' + sans;
const xNameFont = 'bold 22px ' + sans;
const yNameFont = 'bold 20px "DejaVu Sans", sans-serif';
const sq = 0.82;

text(67, 40, 'A', letterFont);
text(476, 62, 'Melt Peak', titleFont, 0, sq);
text(70, 337, '-d(RFU)/dT', yNameFont, Math.PI / 2);
text(514, 654, 'Temperature, Celsius', xNameFont, 0, sq);
text(563, 156, '1, 2, 4', markFont);
text(567, 294, '3', markFont);

text(1014, 47, 'B', letterFont);
text(1409, 65, 'Difference Curve', titleFont, 0, sq);
text(1009, 337, 'Difference RFU', yNameFont, Math.PI / 2);
text(1444, 654, 'Temperature', xNameFont, 0, sq);
text(1481, 167, '3', markFont);
text(1441, 370, '1, 2', markFont);
text(1377, 528, '4', markFont);

text(75, 720, 'C', letterFont);
text(476, 734, 'Melt Peak', titleFont, 0, sq);
text(70, 1027, '-d(RFU)/dT', yNameFont, Math.PI / 2);
text(511, 1322, 'Temperature, Celsius', xNameFont, 0, sq);
text(414, 780, '6, 7', markFont);
text(317, 894, '8', markFont);
text(450, 903, '5', markFont);

text(1024, 705, 'D', letterFont);
text(1413, 739, 'Difference Curve', titleFont, 0, sq);
text(1016, 1005, 'Difference RFU', yNameFont, Math.PI / 2);
text(1447, 1316, 'Temperature', xNameFont, 0, sq);
text(1671, 798, '5', markFont);
text(1581, 925, '6', markFont);
text(1504, 1062, '7', markFont);
text(1516, 1203, '8', markFont);

text(86, 1439, 'E', letterFont);
text(482, 1453, 'Melt Peak', titleFont, 0, sq);
text(70, 1751, '-d(RFU)/dT', yNameFont, Math.PI / 2);
text(517, 2054, 'Temperature, Celsius', xNameFont, 0, sq);
text(438, 1509, '9, 10', markFont);
text(313, 1622, '11', markFont);
text(451, 1630, '12', markFont);

text(1043, 1437, 'F', letterFont);
text(1424, 1455, 'Difference Curve', titleFont, 0, sq);
text(1035, 1733, 'Difference RFU', yNameFont, Math.PI / 2);
text(1452, 2057, 'Temperature', xNameFont, 0, sq);
text(1478, 1558, '9', markFont);
text(1478, 1716, '10', markFont);
text(1472, 1790, '11', markFont);
text(1424, 1896, '12', markFont);

g.push({
  type: 'text', x: 103, y: 2163, z: 50,
  style: { text: 'Figure 3', font: 'bold 42px "Liberation Serif", "Times New Roman", serif', fill: '#000', textAlign: 'left', textVerticalAlign: 'middle', align: 'left', verticalAlign: 'middle' }
});

const chart = echarts.init(document.getElementById('fig'), null, { renderer: 'canvas' });
chart.setOption(option);
</script>
</body>
</html>
